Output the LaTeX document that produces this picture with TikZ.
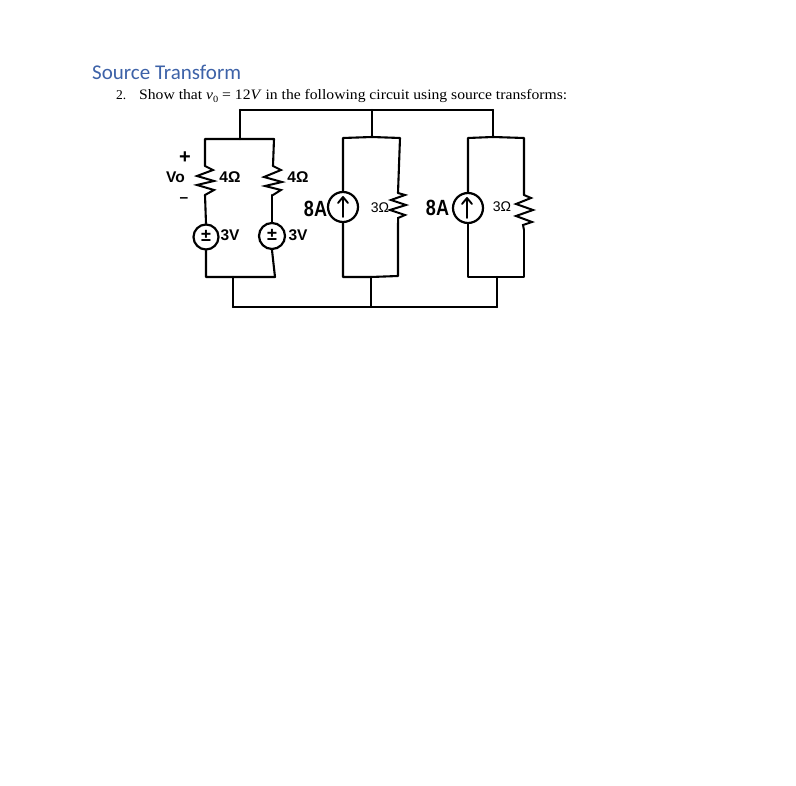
\documentclass[tikz,border=0pt]{standalone}
\usepackage{fontspec}
\setmainfont{Liberation Serif}
\newfontfamily\headfont{Carlito}
\newfontfamily\handfont{Liberation Sans}
\definecolor{headblue}{HTML}{3D62A8}
\tikzset{
  wire/.style={line width=2.1pt,line cap=round,line join=round,black},
  zigzag/.style={line width=2pt,line cap=round,line join=miter,black},
  srcv/.style={circle,draw,line width=2.2pt,minimum size=25pt,inner sep=0pt},
  srci/.style={circle,draw,line width=2.2pt,minimum size=30pt,inner sep=0pt},
  hand/.style={inner sep=0pt,font=\handfont\fontsize{15.5}{15.5}\selectfont\bfseries},
  handsm/.style={inner sep=0pt,font=\handfont\fontsize{14}{14}\selectfont},
  handbig/.style={inner sep=0pt,xscale=.82,font=\handfont\fontsize{22}{22}\selectfont\bfseries},
  arrowup/.style={line width=1.9pt,line cap=round,line join=round,black}
}
\begin{document}
\begin{tikzpicture}[x=1pt,y=-1pt]
\useasboundingbox (0,0) rectangle (796,786);
\fill[white] (0,0) rectangle (796,786);
% texts
\node[anchor=base west,inner sep=0pt,text=headblue,font=\headfont\fontsize{21}{21}\selectfont] (title) at (92,79.5) {Source Transform};
\node[anchor=base west,inner sep=0pt,font=\fontsize{13.5}{13.5}\selectfont] (num) at (116,100) {2.};
\node[anchor=base west,inner sep=0pt,xscale=1.087,font=\fontsize{14.4}{14.4}\selectfont] (task) at (139,100) {Show that \textit{v}\raisebox{-2.5pt}{\fontsize{9.5}{9.5}\selectfont 0} = 12\textit{V} in the following circuit using source transforms:};
% junctions
\coordinate (tl) at (240,110); \coordinate (tm) at (372,110); \coordinate (tr) at (493,110);
\coordinate (bl) at (233,307); \coordinate (bm) at (371,307); \coordinate (br) at (497,307);
\coordinate (a1) at (240,139); \coordinate (a2) at (372,137); \coordinate (a3) at (493,137);
\coordinate (c1) at (233,277); \coordinate (c2) at (371,277); \coordinate (c3) at (497,277);
% sources
\node[srcv] (s1) at (206,237) {};
\node[srcv,minimum size=26pt] (s2) at (272,236) {};
\node[srci] (s3) at (343,207) {};
\node[srci] (s4) at (468,208) {};
\node[inner sep=0pt,font=\handfont\fontsize{18}{18}\selectfont\bfseries] (pm1) at (206,236) {±};
\node[inner sep=0pt,font=\handfont\fontsize{18}{18}\selectfont\bfseries] (pm2) at (272,235) {±};
% resistor ends
\coordinate (r1t) at (205,166); \coordinate (r1b) at (205,195);
\coordinate (r2t) at (273,166); \coordinate (r2b) at (272,195);
\coordinate (r3t) at (398,193); \coordinate (r3b) at (398,223);
\coordinate (r4t) at (524,195); \coordinate (r4b) at (524,230);
% buses
\draw[wire] (tl) -- (tm) -- (tr);
\draw[wire] (bl) -- (bm) -- (br);
\draw[wire] (tl) -- (a1);
\draw[wire] (tm) -- (a2);
\draw[wire] (tr) -- (a3);
\draw[wire] (c1) -- (bl);
\draw[wire] (c2) -- (bm);
\draw[wire] (c3) -- (br);
% branch 1 & 2
\draw[wire] (r1t) -- (205,139) -- (a1) -- (274,139) -- (r2t);
\draw[wire] (r1b) -- (s1.north);
\draw[wire] (r2b) -- (s2.north);
\draw[wire] (s1.south) -- (206,277) -- (c1) -- (275,277) -- (s2.south);
% branch 3
\draw[wire] (s3.north) -- (343,138) -- (a2) -- (400,138) -- (r3t);
\draw[wire] (s3.south) -- (343,277) -- (c2) -- (398,276) -- (r3b);
% branch 4
\draw[wire] (s4.north) -- (468,138) -- (a3) -- (524,138) -- (r4t);
\draw[wire] (s4.south) -- (468,277) -- (c3) -- (524,277) -- (r4b);
% resistors
\draw[zigzag] (r1t) -- ++(8,4) -- ++(-16,6) -- ++(17,5) -- ++(-17,4) -- ++(17,5) -- ++(-9,5);
\draw[zigzag] (r2t) -- ++(8,4) -- ++(-17,7) -- ++(18,5) -- ++(-17,4) -- ++(16,4) -- ++(-8,5);
\draw[zigzag] (r3t) -- ++(7,2) -- ++(-14,5) -- ++(15,5) -- ++(-16,5) -- ++(15,5) -- ++(-7,3) -- (r3b);
\draw[zigzag] (r4t) -- ++(7,3) -- ++(-15,6) -- ++(17,6) -- ++(-17,6) -- ++(16,6) -- ++(-9,3) -- (r4b);
% arrows in current sources
\coordinate (u3t) at (343,197); \coordinate (u3b) at (343,217);
\coordinate (u4t) at (467,198); \coordinate (u4b) at (467,218);
\draw[arrowup] (u3b) -- (u3t) (338,203) -- (u3t) -- (348,203);
\draw[arrowup] (u4b) -- (u4t) (462,204) -- (u4t) -- (472,204);
% labels
\node[hand,font=\handfont\fontsize{20}{20}\selectfont\bfseries] (plus) at (185,158) {+};
\node[hand] (vo) at (175.5,177) {Vo};
\node[hand] (minus) at (184,200.5) {–};
\node[hand] (l1) at (230,177) {4Ω};
\node[hand] (l2) at (298,177) {4Ω};
\node[hand] (l3) at (230,235) {3V};
\node[hand] (l4) at (298,235) {3V};
\node[handbig] (l5) at (315.5,209) {8A};
\node[handbig] (l6) at (437.5,208) {8A};
\node[handsm] (l7) at (380,208) {3Ω};
\node[handsm] (l8) at (502,207) {3Ω};
\end{tikzpicture}
\end{document}
